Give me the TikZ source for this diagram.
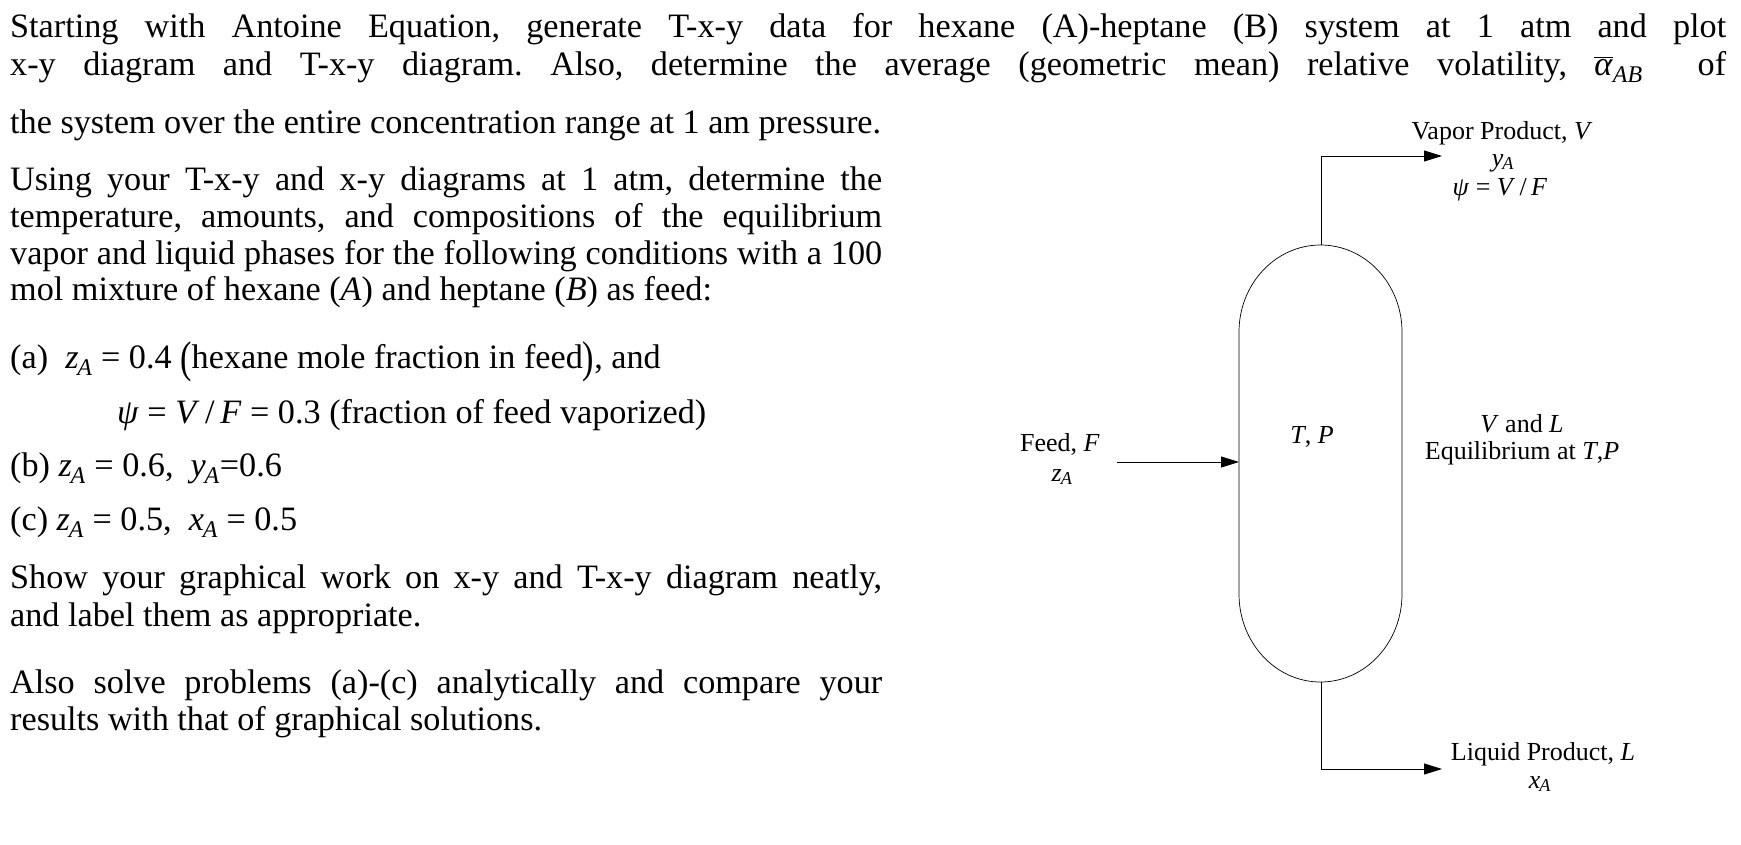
\documentclass[tikz,border=0pt]{standalone}
\usepackage{fontspec}
\setmainfont{Liberation Serif}
\usepackage{graphicx}
\usetikzlibrary{arrows.meta}
\frenchspacing
\newcommand\iv[1]{\textit{#1}}
\newcommand\sbA{\textsubscript{\kern-0.05em\textit{A}}}
\newcommand\bigpar[1]{\raisebox{-0.12em}{\scalebox{1}[1.3]{#1}}}
\begin{document}
\begin{tikzpicture}[x=1pt,y=-1pt,
  tline/.style={anchor=base west,inner sep=0pt,font=\fontsize{34.2}{38}\selectfont},
  small/.style={inner sep=0pt,font=\fontsize{26}{30}\selectfont},
  pipe/.style={draw,line width=0.8pt},
  arr/.style={pipe,-{Triangle[length=18pt,width=11pt]}}]
\useasboundingbox (0,0) rectangle (1741,844);
\node[tline] (l1) at (10,37) {\makebox[1716pt][s]{Starting with Antoine Equation, generate T-x-y data for hexane (A)-heptane (B) system at 1 atm and plot}};
\node[tline] (l2) at (10,75) {\makebox[1716pt][s]{x-y diagram and T-x-y diagram. Also, determine the average (geometric mean) relative volatility, $\overline{\hbox{\iv{α}}}$\textsubscript{\iv{AB}}\ \ of}};
\node[tline] (l3) at (10,133) {the system over the entire concentration range at 1 am pressure.};
\node[tline] (l4) at (10,190) {\makebox[872pt][s]{Using your T-x-y and x-y diagrams at 1 atm, determine the}};
\node[tline] (l5) at (10,227) {\makebox[872pt][s]{temperature, amounts, and compositions of the equilibrium}};
\node[tline] (l6) at (10,264) {\makebox[872pt][s]{vapor and liquid phases for the following conditions with a 100}};
\node[tline] (l7) at (10,300) {mol mixture of hexane (\iv{A}) and heptane (\iv{B}) as feed:};
\node[tline] (a1) at (10,368) {(a)\ \ \iv{z}\sbA\ = 0.4\ \bigpar{(}hexane mole fraction in feed\bigpar{)},\ and};
\node[tline] (a2) at (117,423) {\iv{ψ} = \iv{V}\,/\,\iv{F} = 0.3 (fraction of feed vaporized)};
\node[tline] (b) at (10,476) {(b) \iv{z}\sbA\ = 0.6,\ \ \iv{y}\sbA=0.6};
\node[tline] (c) at (10,530) {(c) \iv{z}\sbA\ = 0.5,\ \ \iv{x}\sbA\ = 0.5};
\node[tline] (s1) at (10,588) {\makebox[872pt][s]{Show your graphical work on x-y and T-x-y diagram neatly,}};
\node[tline] (s2) at (10,626) {and label them as appropriate.};
\node[tline] (r1) at (10,693) {\makebox[872pt][s]{Also solve problems (a)-(c) analytically and compare your}};
\node[tline] (r2) at (10,730) {results with that of graphical solutions.};
% vessel
\draw[line width=0.7pt] (1239,332) -- (1239,594) arc[start angle=180,end angle=360,x radius=81.5,y radius=-88] -- (1402,332) arc[start angle=0,end angle=180,x radius=81.5,y radius=-87] -- cycle;
\coordinate (vtop) at (1321,245);
\coordinate (vbot) at (1321,682);
\coordinate (vout) at (1442,156);
\coordinate (lout) at (1442,769);
\coordinate (fin) at (1117,462);
\coordinate (vleft) at (1239,462);
\draw[arr] (vtop) |- (vout);
\draw[arr] (vbot) |- (lout);
\draw[arr] (fin) -- (vleft);
\node[small] (vp) at (1502,133) {Vapor Product, \iv{V}};
\node[small] (ya) at (1503,163) {\iv{y}\sbA};
\node[small] (psi) at (1500,190) {\iv{ψ} = \iv{V}\,/\,\iv{F}};
\node[small] (tp) at (1312,437) {\iv{T},\ \iv{P}};
\node[small] (vl) at (1522,424) {\iv{V} and \iv{L}};
\node[small] (eq) at (1522,453) {Equilibrium at \iv{T},\iv{P}};
\node[small] (feed) at (1060,444) {Feed, \iv{F}};
\node[small] (za) at (1062,477) {\iv{z}\sbA};
\node[small] (lp) at (1543,754) {Liquid Product, \iv{L}};
\node[small] (xa) at (1540,784) {\iv{x}\sbA};
\end{tikzpicture}
\end{document}
